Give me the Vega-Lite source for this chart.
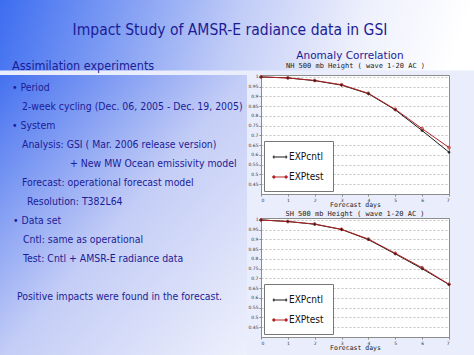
{
  "$schema": "https://vega.github.io/schema/vega-lite/v6.json",
  "padding": 0,
  "background": "#eaeefc",
  "spacing": 0,
  "config": {"view": {"stroke": null}, "font": "DejaVu Sans"},
  "resolve": {"scale": {"color": "independent", "shape": "independent"}, "legend": {"color": "independent", "shape": "independent"}},
  "datasets": {
    "heading": [
      {"role": "slide title", "text": "Impact Study of AMSR-E radiance data in GSI"},
      {"role": "section heading", "text": "Assimilation experiments"},
      {"role": "chart title", "text": "Anomaly Correlation"},
      {"role": "chart subtitle", "text": "NH 500 mb Height ( wave 1-20 AC )"}
    ],
    "slide": [
      {"line": 1, "indent": 1.2, "text": "• Period"},
      {"line": 2, "indent": 2.2, "text": "2-week cycling (Dec. 06, 2005 - Dec. 19, 2005)"},
      {"line": 3, "indent": 1.2, "text": "• System"},
      {"line": 4, "indent": 2.2, "text": "Analysis: GSI ( Mar. 2006 release version)"},
      {"line": 5, "indent": 7.0, "text": "+ New MW Ocean emissivity model"},
      {"line": 6, "indent": 2.2, "text": "Forecast: operational forecast model"},
      {"line": 7, "indent": 2.7, "text": "Resolution: T382L64"},
      {"line": 8, "indent": 1.3, "text": "• Data set"},
      {"line": 9, "indent": 2.3, "text": "Cntl: same as operational"},
      {"line": 10, "indent": 2.3, "text": "Test: Cntl + AMSR-E radiance data"},
      {"line": 12, "indent": 1.7, "text": "Positive impacts were found in the forecast."}
    ],
    "ac": [
      {"hemi": "NH", "series": "EXPcntl", "day": 0, "ac": 1.0},
      {"hemi": "NH", "series": "EXPcntl", "day": 1, "ac": 0.995},
      {"hemi": "NH", "series": "EXPcntl", "day": 2, "ac": 0.981},
      {"hemi": "NH", "series": "EXPcntl", "day": 3, "ac": 0.958},
      {"hemi": "NH", "series": "EXPcntl", "day": 4, "ac": 0.914},
      {"hemi": "NH", "series": "EXPcntl", "day": 5, "ac": 0.831},
      {"hemi": "NH", "series": "EXPcntl", "day": 6, "ac": 0.725},
      {"hemi": "NH", "series": "EXPcntl", "day": 7, "ac": 0.614},
      {"hemi": "NH", "series": "EXPtest", "day": 0, "ac": 1.0},
      {"hemi": "NH", "series": "EXPtest", "day": 1, "ac": 0.995},
      {"hemi": "NH", "series": "EXPtest", "day": 2, "ac": 0.982},
      {"hemi": "NH", "series": "EXPtest", "day": 3, "ac": 0.96},
      {"hemi": "NH", "series": "EXPtest", "day": 4, "ac": 0.916},
      {"hemi": "NH", "series": "EXPtest", "day": 5, "ac": 0.834},
      {"hemi": "NH", "series": "EXPtest", "day": 6, "ac": 0.735},
      {"hemi": "NH", "series": "EXPtest", "day": 7, "ac": 0.638},
      {"hemi": "SH", "series": "EXPcntl", "day": 0, "ac": 1.0},
      {"hemi": "SH", "series": "EXPcntl", "day": 1, "ac": 0.992},
      {"hemi": "SH", "series": "EXPcntl", "day": 2, "ac": 0.978},
      {"hemi": "SH", "series": "EXPcntl", "day": 3, "ac": 0.951},
      {"hemi": "SH", "series": "EXPcntl", "day": 4, "ac": 0.899},
      {"hemi": "SH", "series": "EXPcntl", "day": 5, "ac": 0.826},
      {"hemi": "SH", "series": "EXPcntl", "day": 6, "ac": 0.75},
      {"hemi": "SH", "series": "EXPcntl", "day": 7, "ac": 0.669},
      {"hemi": "SH", "series": "EXPtest", "day": 0, "ac": 1.0},
      {"hemi": "SH", "series": "EXPtest", "day": 1, "ac": 0.992},
      {"hemi": "SH", "series": "EXPtest", "day": 2, "ac": 0.979},
      {"hemi": "SH", "series": "EXPtest", "day": 3, "ac": 0.952},
      {"hemi": "SH", "series": "EXPtest", "day": 4, "ac": 0.902},
      {"hemi": "SH", "series": "EXPtest", "day": 5, "ac": 0.829},
      {"hemi": "SH", "series": "EXPtest", "day": 6, "ac": 0.755},
      {"hemi": "SH", "series": "EXPtest", "day": 7, "ac": 0.67}
    ]
  },
  "vconcat": [
    {
      "width": 474,
      "height": 70.5,
      "view": {"stroke": null, "fill": {"gradient": "linear", "x1": 0, "y1": 0, "x2": 1, "y2": 0.05, "stops": [{"offset": 0, "color": "#3d6df0"}, {"offset": 0.52, "color": "#c2cdf7"}, {"offset": 0.78, "color": "#eef0fc"}, {"offset": 1, "color": "#ffffff"}]}},
      "data": {"name": "heading"},
      "encoding": {"text": {"field": "text"}},
      "layer": [
        {"transform": [{"filter": "datum.role === 'slide title'"}], "mark": {"type": "text", "font": "DejaVu Sans Condensed", "fontSize": 15.5, "color": "#1c1c96", "dx": -7, "dy": -5}},
        {"transform": [{"filter": "datum.role === 'section heading'"}], "mark": {"type": "text", "align": "left", "font": "DejaVu Sans Condensed", "fontSize": 12.5, "color": "#1c1c96", "dx": -225, "dy": 31}},
        {"transform": [{"filter": "datum.role === 'chart title'"}], "mark": {"type": "text", "font": "DejaVu Sans", "fontSize": 10.5, "color": "#1c1c96", "dx": 113, "dy": 21}},
        {"transform": [{"filter": "datum.role === 'chart subtitle'"}], "mark": {"type": "text", "font": "DejaVu Sans Mono", "fontSize": 7, "color": "#222222", "dx": 118.5, "dy": 30.5}}
      ]
    },
    {
      "spacing": 0,
      "resolve": {"scale": {"color": "independent", "shape": "independent"}, "legend": {"color": "independent", "shape": "independent"}},
      "hconcat": [
        {
          "width": 247,
          "height": 284.5,
          "view": {"stroke": null, "fill": {"gradient": "linear", "x1": 0, "y1": 0, "x2": 1, "y2": 1, "stops": [{"offset": 0, "color": "#4571f0"}, {"offset": 0.5, "color": "#c4cdf6"}, {"offset": 1, "color": "#eef1fc"}]}},
          "data": {"name": "slide"},
          "mark": {"type": "text", "align": "left", "baseline": "middle", "font": "DejaVu Sans Condensed", "fontSize": 10.4, "color": "#1c1c96"},
          "encoding": {
            "x": {"field": "indent", "type": "quantitative", "scale": {"domain": [0, 24.7], "nice": false, "zero": false}, "axis": null},
            "y": {"field": "line", "type": "quantitative", "scale": {"domain": [0, 12], "range": [-5.6, 221.5], "nice": false, "zero": false}, "axis": null},
            "text": {"field": "text"}
          }
        },
        {
          "spacing": 0,
          "resolve": {"scale": {"color": "independent", "shape": "independent"}, "legend": {"color": "independent", "shape": "independent"}},
          "vconcat": [
            {
              "width": 188,
              "height": 119,
              "view": {"fill": "white", "stroke": "#8c8c8c", "strokeWidth": 1},
              "data": {"name": "ac"},
              "transform": [{"filter": "datum.hemi === 'NH'"}],
              "encoding": {
                "x": {"field": "day", "type": "quantitative", "scale": {"domain": [0, 7], "nice": false}, "axis": {"values": [0, 1, 2, 3, 4, 5, 6, 7], "format": "d", "labelFontSize": 4.5, "labelColor": "#333333", "labelPadding": 1, "tickSize": 2, "tickColor": "#888888", "domain": false, "grid": false, "title": "Forecast days", "titleFont": "DejaVu Sans Mono", "titleFontSize": 6.5, "titleFontWeight": "normal", "titlePadding": 0, "titleColor": "#222222"}},
                "y": {"field": "ac", "type": "quantitative", "scale": {"domain": [0.4, 1.01], "nice": false, "zero": false}, "axis": {"values": [0.45, 0.5, 0.55, 0.6, 0.65, 0.7, 0.75, 0.8, 0.85, 0.9, 0.95, 1], "format": "~g", "labelFlush": true, "labelFontSize": 4.5, "labelColor": "#333333", "labelPadding": 1, "tickSize": 2, "tickColor": "#888888", "domain": false, "grid": true, "gridDash": [2, 2], "gridColor": "#9a9a9a", "gridWidth": 0.6, "title": null}},
                "color": {"field": "series", "type": "nominal", "scale": {"domain": ["EXPcntl", "EXPtest"], "range": ["#1a1a1a", "#b22222"]}, "legend": {"title": null, "orient": "bottom-left", "offset": 3, "fillColor": "white", "strokeColor": "#777777", "padding": 9, "rowPadding": 8, "symbolSize": 150, "symbolStrokeWidth": 1, "symbolOpacity": 1, "symbolFillColor": "white", "labelFont": "DejaVu Sans Condensed", "labelFontSize": 10, "labelColor": "#111111", "labelOffset": 2}}
              },
              "layer": [
                {"mark": {"type": "line", "strokeWidth": 1}},
                {"transform": [{"filter": "datum.series === 'EXPcntl'"}], "mark": {"type": "point", "shape": "cross", "size": 8, "filled": true, "opacity": 1}},
                {"transform": [{"filter": "datum.series === 'EXPtest'"}], "mark": {"type": "point", "shape": "circle", "size": 8, "strokeWidth": 0.8, "filled": false, "opacity": 1}},
                {"mark": {"type": "point", "opacity": 0, "filled": false}, "encoding": {"shape": {"field": "series", "type": "nominal", "scale": {"domain": ["EXPcntl", "EXPtest"], "range": ["M-1.2,0H1.2M-1,-0.25V0.25M1,-0.25V0.25", "M-0.8,0H0.8M-0.8,0A0.2,0.2 0 1,1 -1.2,0A0.2,0.2 0 1,1 -0.8,0M1.2,0A0.2,0.2 0 1,1 0.8,0A0.2,0.2 0 1,1 1.2,0"]}, "legend": {"title": null, "orient": "bottom-left", "offset": 3, "fillColor": "white", "strokeColor": "#777777", "padding": 9, "rowPadding": 8, "symbolSize": 150, "symbolStrokeWidth": 1, "symbolOpacity": 1, "symbolFillColor": "white", "labelFont": "DejaVu Sans Condensed", "labelFontSize": 10, "labelColor": "#111111", "labelOffset": 2}}}}
              ]
            },
            {
              "width": 188,
              "height": 119,
              "view": {"fill": "white", "stroke": "#8c8c8c", "strokeWidth": 1},
              "title": {"text": "SH 500 mb Height ( wave 1-20 AC )", "font": "DejaVu Sans Mono", "fontSize": 7, "fontWeight": "normal", "color": "#222222", "offset": 0, "anchor": "middle"},
              "data": {"name": "ac"},
              "transform": [{"filter": "datum.hemi === 'SH'"}],
              "encoding": {
                "x": {"field": "day", "type": "quantitative", "scale": {"domain": [0, 7], "nice": false}, "axis": {"values": [0, 1, 2, 3, 4, 5, 6, 7], "format": "d", "labelFontSize": 4.5, "labelColor": "#333333", "labelPadding": 1, "tickSize": 2, "tickColor": "#888888", "domain": false, "grid": false, "title": "Forecast days", "titleFont": "DejaVu Sans Mono", "titleFontSize": 6.5, "titleFontWeight": "normal", "titlePadding": 0, "titleColor": "#222222"}},
                "y": {"field": "ac", "type": "quantitative", "scale": {"domain": [0.4, 1.01], "nice": false, "zero": false}, "axis": {"values": [0.45, 0.5, 0.55, 0.6, 0.65, 0.7, 0.75, 0.8, 0.85, 0.9, 0.95, 1], "format": "~g", "labelFlush": true, "labelFontSize": 4.5, "labelColor": "#333333", "labelPadding": 1, "tickSize": 2, "tickColor": "#888888", "domain": false, "grid": true, "gridDash": [2, 2], "gridColor": "#9a9a9a", "gridWidth": 0.6, "title": null}},
                "color": {"field": "series", "type": "nominal", "scale": {"domain": ["EXPcntl", "EXPtest"], "range": ["#1a1a1a", "#b22222"]}, "legend": {"title": null, "orient": "bottom-left", "offset": 3, "fillColor": "white", "strokeColor": "#777777", "padding": 9, "rowPadding": 8, "symbolSize": 150, "symbolStrokeWidth": 1, "symbolOpacity": 1, "symbolFillColor": "white", "labelFont": "DejaVu Sans Condensed", "labelFontSize": 10, "labelColor": "#111111", "labelOffset": 2}}
              },
              "layer": [
                {"mark": {"type": "line", "strokeWidth": 1}},
                {"transform": [{"filter": "datum.series === 'EXPcntl'"}], "mark": {"type": "point", "shape": "cross", "size": 8, "filled": true, "opacity": 1}},
                {"transform": [{"filter": "datum.series === 'EXPtest'"}], "mark": {"type": "point", "shape": "circle", "size": 8, "strokeWidth": 0.8, "filled": false, "opacity": 1}},
                {"mark": {"type": "point", "opacity": 0, "filled": false}, "encoding": {"shape": {"field": "series", "type": "nominal", "scale": {"domain": ["EXPcntl", "EXPtest"], "range": ["M-1.2,0H1.2M-1,-0.25V0.25M1,-0.25V0.25", "M-0.8,0H0.8M-0.8,0A0.2,0.2 0 1,1 -1.2,0A0.2,0.2 0 1,1 -0.8,0M1.2,0A0.2,0.2 0 1,1 0.8,0A0.2,0.2 0 1,1 1.2,0"]}, "legend": {"title": null, "orient": "bottom-left", "offset": 3, "fillColor": "white", "strokeColor": "#777777", "padding": 9, "rowPadding": 8, "symbolSize": 150, "symbolStrokeWidth": 1, "symbolOpacity": 1, "symbolFillColor": "white", "labelFont": "DejaVu Sans Condensed", "labelFontSize": 10, "labelColor": "#111111", "labelOffset": 2}}}}
              ]
            }
          ]
        }
      ]
    }
  ]
}
